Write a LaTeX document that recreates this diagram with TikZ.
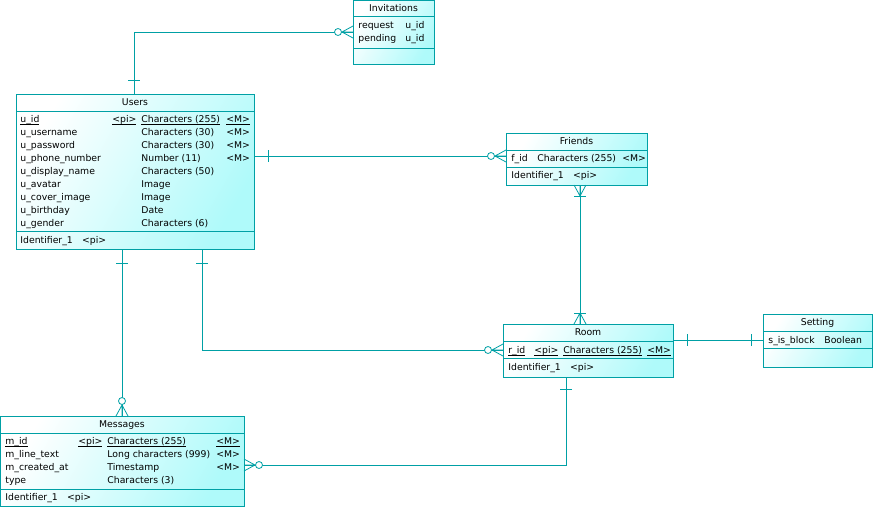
\documentclass[tikz,border=0pt]{standalone}
\usepackage{fontspec}
\setmainfont{DejaVu Sans}
\usetikzlibrary{calc}
\definecolor{ln}{RGB}{0,160,165}
\definecolor{ef}{RGB}{175,250,250}
\newcommand{\ul}[1]{\underline{\smash{#1}}}
\begin{document}
\begin{tikzpicture}[x=1pt,y=-1pt,line width=0.8pt,
  ent/.style={draw=ln,inner sep=0,outer sep=0,left color=white,right color=ef,shading angle=60},
  t/.style={anchor=base west,inner sep=0,yshift=-3.4pt,font=\fontsize{9.3}{10}\selectfont},
  tt/.style={anchor=base,inner sep=0,yshift=-3.4pt,font=\fontsize{9.3}{10}\selectfont},
  pics/zcrow/.style={code={\draw[ln] (0,-6)--(11,0) (0,6)--(11,0) (0,0)--(11,0); \draw[ln,fill=white] (15,0) circle (3.5);}},
  pics/bar/.style={code={\draw[ln] (14,-6)--(14,6);}},
  pics/bar2/.style={code={\draw[ln] (12,-6)--(12,6);}},
  pics/ocrow/.style={code={\draw[ln] (0,-6)--(11,0) (0,6)--(11,0) (0,0)--(11,0); \draw[ln] (11,-6)--(11,6);}}
]
\useasboundingbox (0,0) rectangle (873,507);
% Entities
\node[ent,minimum width=81,minimum height=64] (inv) at (393.5,32) {};
\node[ent,minimum width=238,minimum height=155] (users) at (135,171.5) {};
\node[ent,minimum width=141,minimum height=52] (friends) at (576.5,159) {};
\node[ent,minimum width=170,minimum height=53] (room) at (588,350.5) {};
\node[ent,minimum width=109,minimum height=53] (setting) at (817.5,340.5) {};
\node[ent,minimum width=244,minimum height=90] (msg) at (122,461) {};
\draw[ln,line width=0.6pt] (353,16)--(434,16) (353,48)--(434,48)
  (16,111)--(254,111) (16,231)--(254,231)
  (506,150)--(647,150) (506,167)--(647,167)
  (503,341)--(673,341) (503,358)--(673,358)
  (763,331)--(872,331) (763,348)--(872,348)
  (0,433)--(244,433) (0,489)--(244,489);
% Invitations
\node[tt] (invt) at (393.5,8) {Invitations};
\node[t] (i1) at (358,25) {request}; \node[t] (i2) at (405,25) {u\_id};
\node[t] (i3) at (358,38) {pending}; \node[t] (i4) at (405,38) {u\_id};
% Users
\node[tt] (ut) at (135,102) {Users};
\node[t] (u1) at (20,119) {\ul{u\_id}}; \node[t] (u1p) at (112,119) {\ul{<pi>}};
\node[t] (u1t) at (141,119) {\ul{Characters (255)}}; \node[t] (u1m) at (226,119) {\ul{<M>}};
\foreach \n/\ty/\m [count=\i from 1] in {u\_username/Characters (30)/<M>,u\_password/Characters (30)/<M>,u\_phone\_number/Number (11)/<M>,u\_display\_name/Characters (50)/,u\_avatar/Image/,u\_cover\_image/Image/,u\_birthday/Date/,u\_gender/Characters (6)/}{
  \node[t] (un\i) at (20,119+13*\i) {\n};
  \node[t] (ut\i) at (141,119+13*\i) {\ty};
  \node[t] (um\i) at (226,119+13*\i) {\m};
}
\node[t] (uid) at (20,240) {Identifier\_1\quad <pi>};
% Friends
\node[tt] (ft) at (576.5,141) {Friends};
\node[t] (f1) at (511,158) {f\_id}; \node[t] (f2) at (537,158) {Characters (255)}; \node[t] (f3) at (622,158) {<M>};
\node[t] (fid) at (511,175) {Identifier\_1\quad <pi>};
% Room
\node[tt] (rt) at (588,332) {Room};
\node[t] (r1) at (508,350) {\ul{r\_id}}; \node[t] (r2) at (534,350) {\ul{<pi>}};
\node[t] (r3) at (563,350) {\ul{Characters (255)}}; \node[t] (r4) at (647,350) {\ul{<M>}};
\node[t] (rid) at (508,367) {Identifier\_1\quad <pi>};
% Setting
\node[tt] (st) at (817.5,322) {Setting};
\node[t] (s1) at (768,340) {s\_is\_block}; \node[t] (s2) at (824,340) {Boolean};
% Messages
\node[tt] (mt) at (122,424) {Messages};
\node[t] (m1) at (5,441) {\ul{m\_id}}; \node[t] (m1p) at (78,441) {\ul{<pi>}};
\node[t] (m1t) at (107,441) {\ul{Characters (255)}}; \node[t] (m1m) at (216,441) {\ul{<M>}};
\foreach \n/\ty/\m [count=\i from 1] in {m\_line\_text/Long characters (999)/<M>,m\_created\_at/Timestamp/<M>,type/Characters (3)/}{
  \node[t] (mn\i) at (5,441+13*\i) {\n};
  \node[t] (mty\i) at (107,441+13*\i) {\ty};
  \node[t] (mm\i) at (216,441+13*\i) {\m};
}
\node[t] (mid) at (5,497) {Identifier\_1\quad <pi>};
% Connectors
\draw[ln] (134,0 |- users.north) |- (inv.west |- 0,32);
\draw[ln] (users.east |- 0,156) -- (friends.west |- 0,156);
\draw[ln] (580,0 |- friends.south) -- (580,0 |- room.north);
\draw[ln] (202,0 |- users.south) |- (room.west |- 0,350);
\draw[ln] (122,0 |- users.south) -- (122,0 |- msg.north);
\draw[ln] (room.east |- 0,340) -- (setting.west |- 0,340);
\draw[ln] (566,0 |- room.south) |- (msg.east |- 0,465);
% Ends
\pic[rotate=90] at (134,94) {bar};
\pic[rotate=180] at (353,32) {zcrow};
\pic at (254,156) {bar};
\pic[rotate=180] at (506,156) {zcrow};
\pic[rotate=-90] at (580,185) {ocrow};
\pic[rotate=90] at (580,324) {ocrow};
\pic[rotate=-90] at (202,249) {bar};
\pic[rotate=180] at (503,350) {zcrow};
\pic[rotate=-90] at (122,249) {bar};
\pic[rotate=90] at (122,416) {zcrow};
\pic at (673,340) {bar};
\pic[rotate=180] at (763,340) {bar2};
\pic[rotate=-90] at (566,377) {bar2};
\pic at (244,465) {zcrow};
\end{tikzpicture}
\end{document}
